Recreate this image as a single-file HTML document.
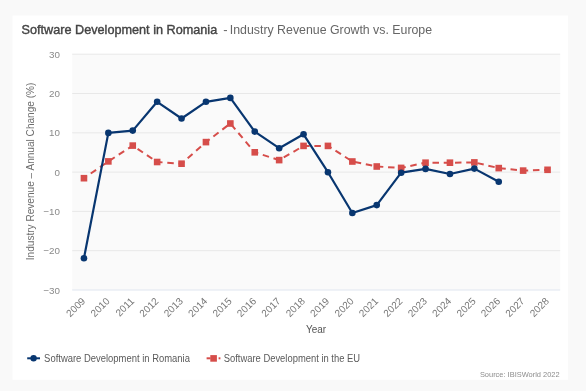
<!DOCTYPE html><html><head><meta charset="utf-8"><style>html,body{margin:0;padding:0;background:#f9f9f9;}svg{display:block;filter:blur(0.3px);}text{font-family:"Liberation Sans",sans-serif;}</style></head><body>
<svg width="586" height="391" viewBox="0 0 586 391">
<rect x="0" y="0" width="586" height="391" fill="#f9f9f9"/>
<rect x="12.5" y="15.5" width="555.5" height="364.3" fill="#ffffff"/>
<text x="21.6" y="34.3" font-size="13" fill="#444444" stroke="#444444" stroke-width="0.4" textLength="195.6" lengthAdjust="spacingAndGlyphs">Software Development in Romania</text>
<text x="223.2" y="34.3" font-size="13" fill="#666666">-</text>
<text x="229.8" y="34.3" font-size="13" fill="#666666" textLength="202.3" lengthAdjust="spacingAndGlyphs">Industry Revenue Growth vs. Europe</text>
<rect x="72.2" y="54.2" width="488.0" height="235.8" fill="#fafafa"/>
<line x1="72.2" x2="560.2" y1="54.20" y2="54.20" stroke="#e8e8e8" stroke-width="1"/>
<line x1="72.2" x2="560.2" y1="93.50" y2="93.50" stroke="#e8e8e8" stroke-width="1"/>
<line x1="72.2" x2="560.2" y1="132.80" y2="132.80" stroke="#e8e8e8" stroke-width="1"/>
<line x1="72.2" x2="560.2" y1="172.10" y2="172.10" stroke="#e8e8e8" stroke-width="1"/>
<line x1="72.2" x2="560.2" y1="211.40" y2="211.40" stroke="#e8e8e8" stroke-width="1"/>
<line x1="72.2" x2="560.2" y1="250.70" y2="250.70" stroke="#e8e8e8" stroke-width="1"/>
<line x1="72.2" x2="560.2" y1="290" y2="290" stroke="#dfe5ef" stroke-width="1.2"/>
<text x="60" y="57.70" font-size="9.8" fill="#8a8a8a" text-anchor="end">30</text>
<text x="60" y="97.00" font-size="9.8" fill="#8a8a8a" text-anchor="end">20</text>
<text x="60" y="136.30" font-size="9.8" fill="#8a8a8a" text-anchor="end">10</text>
<text x="60" y="175.60" font-size="9.8" fill="#8a8a8a" text-anchor="end">0</text>
<text x="60" y="214.90" font-size="9.8" fill="#8a8a8a" text-anchor="end">−10</text>
<text x="60" y="254.20" font-size="9.8" fill="#8a8a8a" text-anchor="end">−20</text>
<text x="60" y="293.50" font-size="9.8" fill="#8a8a8a" text-anchor="end">−30</text>
<text transform="translate(34.4,171.4) rotate(-90)" x="0" y="0" font-size="10" fill="#6e6e6e" text-anchor="middle" textLength="177.6" lengthAdjust="spacingAndGlyphs">Industry Revenue – Annual Change (%)</text>
<text transform="translate(80.95,296.6) rotate(-45)" x="0" y="0" font-size="10" fill="#777777" text-anchor="end" dominant-baseline="hanging">2009</text>
<text transform="translate(105.35,296.6) rotate(-45)" x="0" y="0" font-size="10" fill="#777777" text-anchor="end" dominant-baseline="hanging">2010</text>
<text transform="translate(129.75,296.6) rotate(-45)" x="0" y="0" font-size="10" fill="#777777" text-anchor="end" dominant-baseline="hanging">2011</text>
<text transform="translate(154.15,296.6) rotate(-45)" x="0" y="0" font-size="10" fill="#777777" text-anchor="end" dominant-baseline="hanging">2012</text>
<text transform="translate(178.55,296.6) rotate(-45)" x="0" y="0" font-size="10" fill="#777777" text-anchor="end" dominant-baseline="hanging">2013</text>
<text transform="translate(202.95,296.6) rotate(-45)" x="0" y="0" font-size="10" fill="#777777" text-anchor="end" dominant-baseline="hanging">2014</text>
<text transform="translate(227.35,296.6) rotate(-45)" x="0" y="0" font-size="10" fill="#777777" text-anchor="end" dominant-baseline="hanging">2015</text>
<text transform="translate(251.75,296.6) rotate(-45)" x="0" y="0" font-size="10" fill="#777777" text-anchor="end" dominant-baseline="hanging">2016</text>
<text transform="translate(276.15,296.6) rotate(-45)" x="0" y="0" font-size="10" fill="#777777" text-anchor="end" dominant-baseline="hanging">2017</text>
<text transform="translate(300.55,296.6) rotate(-45)" x="0" y="0" font-size="10" fill="#777777" text-anchor="end" dominant-baseline="hanging">2018</text>
<text transform="translate(324.95,296.6) rotate(-45)" x="0" y="0" font-size="10" fill="#777777" text-anchor="end" dominant-baseline="hanging">2019</text>
<text transform="translate(349.35,296.6) rotate(-45)" x="0" y="0" font-size="10" fill="#777777" text-anchor="end" dominant-baseline="hanging">2020</text>
<text transform="translate(373.75,296.6) rotate(-45)" x="0" y="0" font-size="10" fill="#777777" text-anchor="end" dominant-baseline="hanging">2021</text>
<text transform="translate(398.15,296.6) rotate(-45)" x="0" y="0" font-size="10" fill="#777777" text-anchor="end" dominant-baseline="hanging">2022</text>
<text transform="translate(422.55,296.6) rotate(-45)" x="0" y="0" font-size="10" fill="#777777" text-anchor="end" dominant-baseline="hanging">2023</text>
<text transform="translate(446.95,296.6) rotate(-45)" x="0" y="0" font-size="10" fill="#777777" text-anchor="end" dominant-baseline="hanging">2024</text>
<text transform="translate(471.35,296.6) rotate(-45)" x="0" y="0" font-size="10" fill="#777777" text-anchor="end" dominant-baseline="hanging">2025</text>
<text transform="translate(495.75,296.6) rotate(-45)" x="0" y="0" font-size="10" fill="#777777" text-anchor="end" dominant-baseline="hanging">2026</text>
<text transform="translate(520.15,296.6) rotate(-45)" x="0" y="0" font-size="10" fill="#777777" text-anchor="end" dominant-baseline="hanging">2027</text>
<text transform="translate(544.55,296.6) rotate(-45)" x="0" y="0" font-size="10" fill="#777777" text-anchor="end" dominant-baseline="hanging">2028</text>
<text x="316.1" y="332.8" font-size="10" fill="#555555" text-anchor="middle">Year</text>
<polyline points="83.95,178.20 108.35,161.40 132.75,145.60 157.15,162.00 181.55,163.70 205.95,142.10 230.35,123.50 254.75,152.30 279.15,160.10 303.55,145.90 327.95,145.90 352.35,161.50 376.75,166.50 401.15,167.90 425.55,162.70 449.95,162.70 474.35,162.40 498.75,168.10 523.15,170.60 547.55,169.80" fill="none" stroke="#d64d4a" stroke-width="2" stroke-dasharray="6.5,4.75" stroke-dashoffset="3"/>
<rect x="80.65" y="174.90" width="6.6" height="6.6" fill="#d64d4a"/>
<rect x="105.05" y="158.10" width="6.6" height="6.6" fill="#d64d4a"/>
<rect x="129.45" y="142.30" width="6.6" height="6.6" fill="#d64d4a"/>
<rect x="153.85" y="158.70" width="6.6" height="6.6" fill="#d64d4a"/>
<rect x="178.25" y="160.40" width="6.6" height="6.6" fill="#d64d4a"/>
<rect x="202.65" y="138.80" width="6.6" height="6.6" fill="#d64d4a"/>
<rect x="227.05" y="120.20" width="6.6" height="6.6" fill="#d64d4a"/>
<rect x="251.45" y="149.00" width="6.6" height="6.6" fill="#d64d4a"/>
<rect x="275.85" y="156.80" width="6.6" height="6.6" fill="#d64d4a"/>
<rect x="300.25" y="142.60" width="6.6" height="6.6" fill="#d64d4a"/>
<rect x="324.65" y="142.60" width="6.6" height="6.6" fill="#d64d4a"/>
<rect x="349.05" y="158.20" width="6.6" height="6.6" fill="#d64d4a"/>
<rect x="373.45" y="163.20" width="6.6" height="6.6" fill="#d64d4a"/>
<rect x="397.85" y="164.60" width="6.6" height="6.6" fill="#d64d4a"/>
<rect x="422.25" y="159.40" width="6.6" height="6.6" fill="#d64d4a"/>
<rect x="446.65" y="159.40" width="6.6" height="6.6" fill="#d64d4a"/>
<rect x="471.05" y="159.10" width="6.6" height="6.6" fill="#d64d4a"/>
<rect x="495.45" y="164.80" width="6.6" height="6.6" fill="#d64d4a"/>
<rect x="519.85" y="167.30" width="6.6" height="6.6" fill="#d64d4a"/>
<rect x="544.25" y="166.50" width="6.6" height="6.6" fill="#d64d4a"/>
<polyline points="83.95,258.20 108.35,132.90 132.75,130.60 157.15,101.80 181.55,118.50 205.95,101.80 230.35,97.90 254.75,131.60 279.15,148.20 303.55,134.30 327.95,172.20 352.35,213.00 376.75,205.10 401.15,172.70 425.55,168.90 449.95,174.00 474.35,168.60 498.75,181.70" fill="none" stroke="#083670" stroke-width="2.2" stroke-linejoin="round"/>
<circle cx="83.95" cy="258.20" r="3.3" fill="#083670"/>
<circle cx="108.35" cy="132.90" r="3.3" fill="#083670"/>
<circle cx="132.75" cy="130.60" r="3.3" fill="#083670"/>
<circle cx="157.15" cy="101.80" r="3.3" fill="#083670"/>
<circle cx="181.55" cy="118.50" r="3.3" fill="#083670"/>
<circle cx="205.95" cy="101.80" r="3.3" fill="#083670"/>
<circle cx="230.35" cy="97.90" r="3.3" fill="#083670"/>
<circle cx="254.75" cy="131.60" r="3.3" fill="#083670"/>
<circle cx="279.15" cy="148.20" r="3.3" fill="#083670"/>
<circle cx="303.55" cy="134.30" r="3.3" fill="#083670"/>
<circle cx="327.95" cy="172.20" r="3.3" fill="#083670"/>
<circle cx="352.35" cy="213.00" r="3.3" fill="#083670"/>
<circle cx="376.75" cy="205.10" r="3.3" fill="#083670"/>
<circle cx="401.15" cy="172.70" r="3.3" fill="#083670"/>
<circle cx="425.55" cy="168.90" r="3.3" fill="#083670"/>
<circle cx="449.95" cy="174.00" r="3.3" fill="#083670"/>
<circle cx="474.35" cy="168.60" r="3.3" fill="#083670"/>
<circle cx="498.75" cy="181.70" r="3.3" fill="#083670"/>
<line x1="27.2" x2="40" y1="358.3" y2="358.3" stroke="#083670" stroke-width="2"/>
<circle cx="33.6" cy="358.3" r="3.2" fill="#083670"/>
<text x="44.1" y="361.6" font-size="10" fill="#5a5a5a" textLength="145.8" lengthAdjust="spacingAndGlyphs">Software Development in Romania</text>
<rect x="206.6" y="357.3" width="4" height="2" fill="#d64d4a"/>
<rect x="218.6" y="357.3" width="1.8" height="2" fill="#d64d4a"/>
<rect x="210.3" y="355.1" width="6.6" height="6.6" fill="#d64d4a"/>
<text x="223.7" y="361.6" font-size="10" fill="#5a5a5a" textLength="136.4" lengthAdjust="spacingAndGlyphs">Software Development in the EU</text>
<text x="559.6" y="376.6" font-size="8" fill="#8c8c8c" text-anchor="end" textLength="79.7" lengthAdjust="spacingAndGlyphs">Source: IBISWorld 2022</text>
</svg></body></html>
